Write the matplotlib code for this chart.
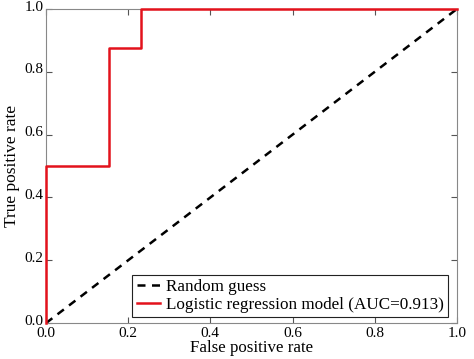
import numpy as np
import matplotlib
matplotlib.use("Agg")
import matplotlib.pyplot as plt
from matplotlib.transforms import ScaledTranslation

plt.rcParams['font.family'] = ['Liberation Serif', 'DejaVu Serif']

# ROC curve points
fpr = [0.0, 0.0, 0.154, 0.154, 0.231, 0.231, 1.0]
tpr = [0.0, 0.5, 0.5, 0.875, 0.875, 1.0, 1.0]
auc = 0.913
ticks = [0.0, 0.2, 0.4, 0.6, 0.8, 1.0]

fig = plt.figure(figsize=(4.74, 3.59), dpi=100)
ax = fig.add_axes([0.097, 0.1, 0.867, 0.875])

ax.plot([0, 1], [0, 1], color='k', linestyle='--', dashes=(3.2, 2.6),
        linewidth=1.8, label='Random guess')
ax.plot(fpr, tpr, color='#e3121c', linewidth=1.8, clip_on=False, zorder=5,
        label='Logistic regression model (AUC=%.3f)' % auc)

ax.set_xlim(0, 1)
ax.set_ylim(0, 1)
ax.set_xticks(ticks)
ax.set_yticks(ticks)
ax.set_xticklabels(['%.1f' % t for t in ticks])
ax.set_yticklabels(['%.1f' % t for t in ticks])
ax.tick_params(direction='in', top=True, right=True, labelsize=11, length=4,
               color='#555555', pad=2)
ax.tick_params(axis='x', pad=2.5)
# y tick labels sit a little above their ticks
shift = ScaledTranslation(0, 2.5 / 72, fig.dpi_scale_trans)
for lbl in ax.get_yticklabels():
    lbl.set_transform(lbl.get_transform() + shift)
for s in ax.spines.values():
    s.set_color('#888888')
ax.set_xlabel('False positive rate', fontsize=12.2, labelpad=0)
ax.set_ylabel('True positive rate', fontsize=12.5, labelpad=3)

leg = ax.legend(loc='lower right', bbox_to_anchor=(0.978, 0.019), borderaxespad=0,
                fontsize=12.3, fancybox=False, framealpha=1,
                edgecolor='#222222', handlelength=1.35, handletextpad=0.35,
                borderpad=0.25, labelspacing=0.1)
leg.get_frame().set_linewidth(0.8)

fig.savefig('out.png', dpi=100)
